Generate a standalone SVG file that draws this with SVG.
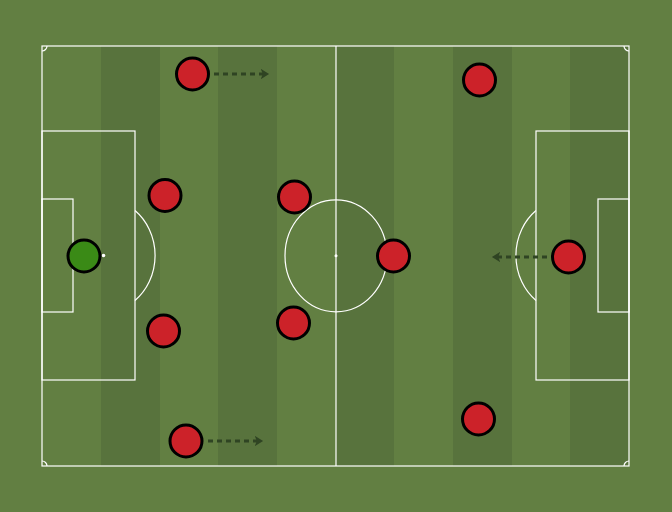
<svg xmlns="http://www.w3.org/2000/svg" width="672" height="512" viewBox="0 0 672 512">
<defs>
<style>
.line{fill:none;stroke:#ffffff;stroke-width:1.2}
.stripe{fill:#58733d}
.p{stroke:#000;stroke-width:3}
.red{fill:#cc2229}
.green{fill:#3a8a16}
.mv{fill:none;stroke:#2f4423;stroke-width:3;stroke-dasharray:5 4;marker-end:url(#ah)}
</style>
<marker id="ah" viewBox="0 0 10 10" refX="6" refY="5" markerWidth="3.5" markerHeight="3.5" orient="auto" markerUnits="strokeWidth">
<path d="M0,0 L8,5 L0,10 L2,5 Z" fill="#2f4423"/>
</marker>
</defs>
<rect width="672" height="512" fill="#627f42"/>
<g id="pitch">
<rect class="stripe" x="101" y="46" width="59" height="420"/>
<rect class="stripe" x="218" y="46" width="59" height="420"/>
<rect class="stripe" x="336" y="46" width="58" height="420"/>
<rect class="stripe" x="453" y="46" width="59" height="420"/>
<rect class="stripe" x="570" y="46" width="59" height="420"/>
<rect class="line" x="42" y="46" width="587" height="420"/>
<line class="line" x1="336" y1="46" x2="336" y2="466"/>
<ellipse class="line" cx="336" cy="255.8" rx="51" ry="56"/>
<circle cx="336" cy="255.8" r="1.5" fill="#fff"/>
<rect class="line" x="42" y="131" width="93" height="249"/>
<rect class="line" x="42" y="199" width="31" height="113"/>
<circle cx="103.5" cy="255.5" r="1.8" fill="#fff"/>
<path class="line" d="M135,210.5 A52,57 0 0 1 135,300.5"/>
<rect class="line" x="536" y="131" width="93" height="249"/>
<rect class="line" x="598" y="199" width="31" height="113"/>
<circle cx="568" cy="255.5" r="1.8" fill="#fff"/>
<path class="line" d="M536,210.5 A52,57 0 0 0 536,300.5"/>
<path class="line" d="M42,51 A5,5 0 0 0 47,46"/>
<path class="line" d="M624,46 A5,5 0 0 0 629,51"/>
<path class="line" d="M42,461 A5,5 0 0 1 47,466"/>
<path class="line" d="M629,461 A5,5 0 0 0 624,466"/>
</g>
<g id="connectors">
<line class="mv" x1="214" y1="74" x2="267" y2="74"/>
<line class="mv" x1="208" y1="441" x2="261" y2="441"/>
<line class="mv" x1="547" y1="257" x2="494" y2="257"/>
</g>
<g id="p1"><circle class="p red" cx="192.5" cy="74" r="16"/></g>
<g id="p2"><circle class="p red" cx="479.5" cy="80" r="16"/></g>
<g id="p3"><circle class="p red" cx="165" cy="195.5" r="16"/></g>
<g id="p4"><circle class="p red" cx="294.5" cy="197" r="16"/></g>
<g id="gk"><circle class="p green" cx="84" cy="256" r="16"/></g>
<g id="p5"><circle class="p red" cx="393.5" cy="256" r="16"/></g>
<g id="p6"><circle class="p red" cx="568.5" cy="257" r="16"/></g>
<g id="p7"><circle class="p red" cx="163.5" cy="331" r="16"/></g>
<g id="p8"><circle class="p red" cx="293.5" cy="323" r="16"/></g>
<g id="p9"><circle class="p red" cx="478.5" cy="419" r="16"/></g>
<g id="p10"><circle class="p red" cx="186" cy="441" r="16"/></g>
</svg>
